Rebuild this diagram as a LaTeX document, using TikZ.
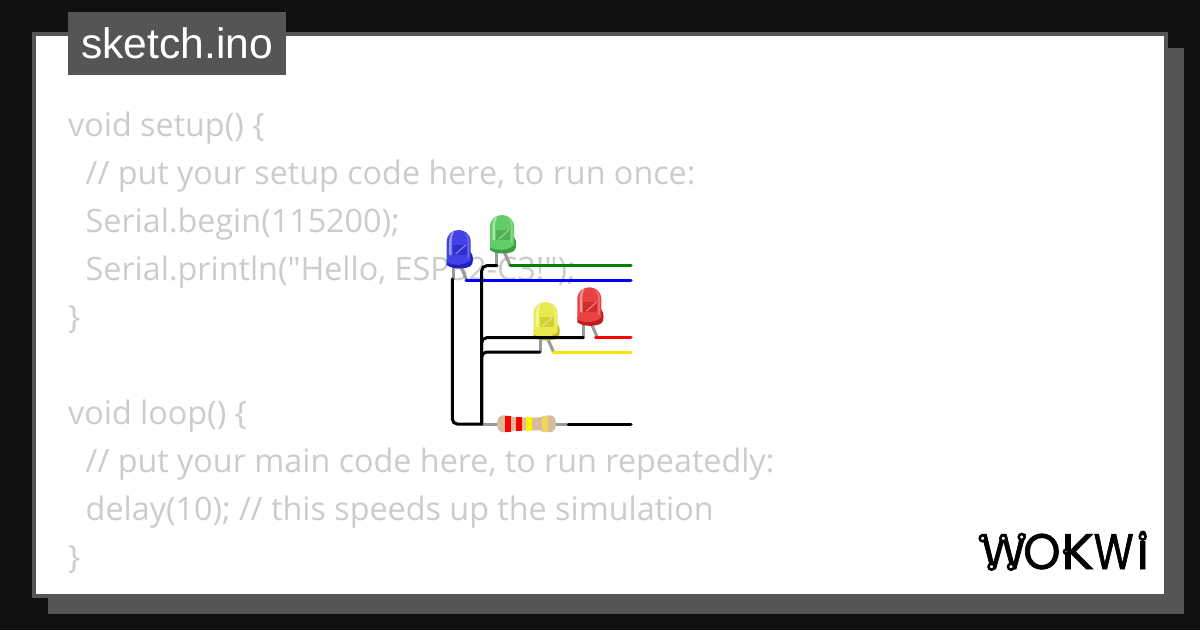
\documentclass[tikz,border=0pt]{standalone}
\usepackage{fontspec}
\setmainfont{Liberation Sans}
\newfontfamily\codefont{Open Sans}[Ligatures=Common]
\newfontfamily\logofont{Poppins}[FakeBold=1.5]
\definecolor{pagebg}{HTML}{111111}
\definecolor{cardgray}{HTML}{555555}
\definecolor{codegray}{HTML}{CCCCCC}
\definecolor{leadgray}{HTML}{999999}
\definecolor{resbody}{HTML}{D8BC9C}
\definecolor{resgold}{HTML}{F0D45E}
\definecolor{ledblue}{HTML}{4242E6}
\definecolor{ledbluedark}{HTML}{2020C0}
\definecolor{ledgreen}{HTML}{62CC66}
\definecolor{ledgreendark}{HTML}{3E9E44}
\definecolor{ledyellow}{HTML}{EAEA50}
\definecolor{ledyellowdark}{HTML}{BDBD1E}
\definecolor{ledred}{HTML}{EA4242}
\definecolor{ledreddark}{HTML}{C01C1C}
\tikzset{
  codeline/.style={anchor=base west,inner sep=0pt,text=codegray,font=\codefont\fontsize{32.3}{32}\selectfont},
  wire/.style={line width=3pt,line cap=round},
  blackwire/.style={wire,black,rounded corners=5pt},
  leadline/.style={line width=3pt,leadgray},
  logoring/.style={circle,draw=black,fill=white,line width=2.5pt,inner sep=0pt,minimum size=6pt},
}
% one LED: x of centre, y of top, body colour, flange colour, light colour
\newcommand{\drawled}[5]{
\begin{scope}[shift={(#1,#2)}]
\draw[leadline] (-5.5,34) -- (-5.5,50);
\draw[leadline] (1,34) -- (8,50);
\fill[#4] (-12,30) -- (-12,35) .. controls (-6,39.5) and (6,39.5) .. (12,36) .. controls (15,34) and (15,25) .. (12,22) -- cycle;
\fill[#3] (-12,32) -- (-12,12) .. controls (-12,-4) and (12,-4) .. (12,12) -- (12,30) .. controls (6,36) and (-6,36) .. (-12,32) -- cycle;
\fill[#4,opacity=0.55] (-6,15) -- (8,15) -- (8,25) -- (-6,25) -- cycle;
\draw[#5,opacity=0.45,line width=1pt] (-3,24) -- (7,15);
\fill[#5,opacity=0.45] (-9.5,25) -- (-9.5,11) .. controls (-9.5,5) and (-7,2) .. (-4.5,1.5) .. controls (-6.5,5) and (-7,8) .. (-7,12) -- (-7,25) -- cycle;
\fill[#5,opacity=0.25] (9,28) -- (9,12) .. controls (9,8) and (8,5) .. (6,3) .. controls (9,4) and (10.5,8) .. (10.5,12) -- (10.5,27) -- cycle;
\end{scope}
}
% one logo letter: offset, horizontal scale, letter
\newcommand{\logoglyph}[3]{\rlap{\kern#1pt\scalebox{#2}[1]{#3}}}
\begin{document}
\begin{tikzpicture}[x=1pt,y=-1pt]
\useasboundingbox (0,0) rectangle (1200,630);
 % page, shadow and card:
\fill[pagebg] (0,0) rectangle (1200,630);
\fill[cardgray] (48,48) rectangle (1184,614);
\draw[cardgray,fill=white,line width=4pt] (34,34) rectangle (1166,596);
 % file tab:
\fill[cardgray] (68,12) rectangle (286,75);
\node[anchor=base,inner sep=0pt,text=white,font=\fontsize{42.6}{43}\selectfont] (tabtitle) at (177,58) {sketch.ino};
 % code:
\node[codeline] (code1) at (68,136) {void setup() \{};
\node[codeline] (code2) at (85.5,184) {// put your setup code here, to run once:};
\node[codeline] (code3) at (85.5,232) {Serial.begin(115200);};
\node[codeline] (code4) at (85.5,280) {Serial.println("Hello, ESP32-C3!");};
\node[codeline] (code5) at (68,328) {\}};
\node[codeline] (code6) at (68,424) {void loop() \{};
\node[codeline] (code7) at (85.5,472) {// put your main code here, to run repeatedly:};
\node[codeline] (code8) at (85.5,520) {delay(10); // this speeds up the simulation};
\node[codeline] (code9) at (68,568) {\}};
 % LEDs:
\drawled{458.7}{230}{ledblue}{ledbluedark}{white}
\drawled{502}{215}{ledgreen}{ledgreendark}{white}
\drawled{545.5}{302}{ledyellow}{ledyellowdark}{white}
\drawled{589.3}{287.3}{ledred}{ledreddark}{white}
 % wire ends:
\coordinate (blueK) at (452.3,279);
\coordinate (blueA) at (466,280);
\coordinate (greenK) at (497,265.7);
\coordinate (greenA) at (510,265.7);
\coordinate (yellowK) at (540,352);
\coordinate (yellowA) at (553.3,352);
\coordinate (redK) at (583.3,337.7);
\coordinate (redA) at (595.7,337.7);
\coordinate (greenEnd) at (631,265.7);
\coordinate (blueEnd) at (631,280);
\coordinate (redEnd) at (631,337.7);
\coordinate (yellowEnd) at (631,352);
\coordinate (resEnd) at (631,424);
\coordinate (joint) at (481.7,424);
\coordinate (resL) at (568.3,424);
 % resistor:
\draw[leadline] (joint) -- (resL);
\fill[resbody] (503,415.3) .. controls (511,415.3) and (512,417.5) .. (518,417.5) -- (537,417.5) .. controls (543,417.5) and (544,415.3) .. (550,415.3) .. controls (558,415.3) and (558,432.3) .. (550,432.3) .. controls (544,432.3) and (543,430.3) .. (537,430.3) -- (518,430.3) .. controls (512,430.3) and (511,432.3) .. (503,432.3) .. controls (495,432.3) and (495,415.3) .. (503,415.3) -- cycle;
\fill[red] (505,415.6) rectangle (510.7,431.8);
\fill[red] (516,416.8) rectangle (521.7,430.6);
\fill[yellow] (526,416.8) rectangle (532,430.6);
\fill[resgold] (542.3,415.6) rectangle (547.7,432);
 % wires:
\draw[wire,green!50!black] (greenA) -- (greenEnd);
\draw[wire,blue] (blueA) -- (blueEnd);
\draw[wire,red] (redA) -- (redEnd);
\draw[wire,yellow!85!orange] (yellowA) -- (yellowEnd);
\draw[wire,black] (resL) -- (resEnd);
\draw[blackwire] (greenK) -| (joint);
\draw[blackwire] (redK) -| (joint);
\draw[blackwire] (yellowK) -| (joint);
\draw[blackwire] (blueK) |- (joint);
 % logo:
\node[anchor=base west,inner sep=0pt,font=\logofont\fontsize{50}{50}\selectfont] (logo) at (980,569) {\logoglyph{0}{0.94}{W}\logoglyph{42.5}{0.95}{O}\logoglyph{80.6}{1.1}{K}\logoglyph{113}{0.82}{W}\logoglyph{156}{1}{i}};
\node[logoring] (ringa) at (982.7,538.3) {};
\node[logoring] (ringb) at (991.5,566.7) {};
\node[logoring] (ringc) at (1003.3,538.3) {};
\node[logoring] (ringd) at (1011,566.7) {};
\node[logoring] (ringe) at (1021.7,537) {};
\node[logoring,minimum size=4pt] (ringk) at (1066,551.7) {};
\node[logoring] (ringi) at (1142.7,536.7) {};
\end{tikzpicture}
\end{document}
